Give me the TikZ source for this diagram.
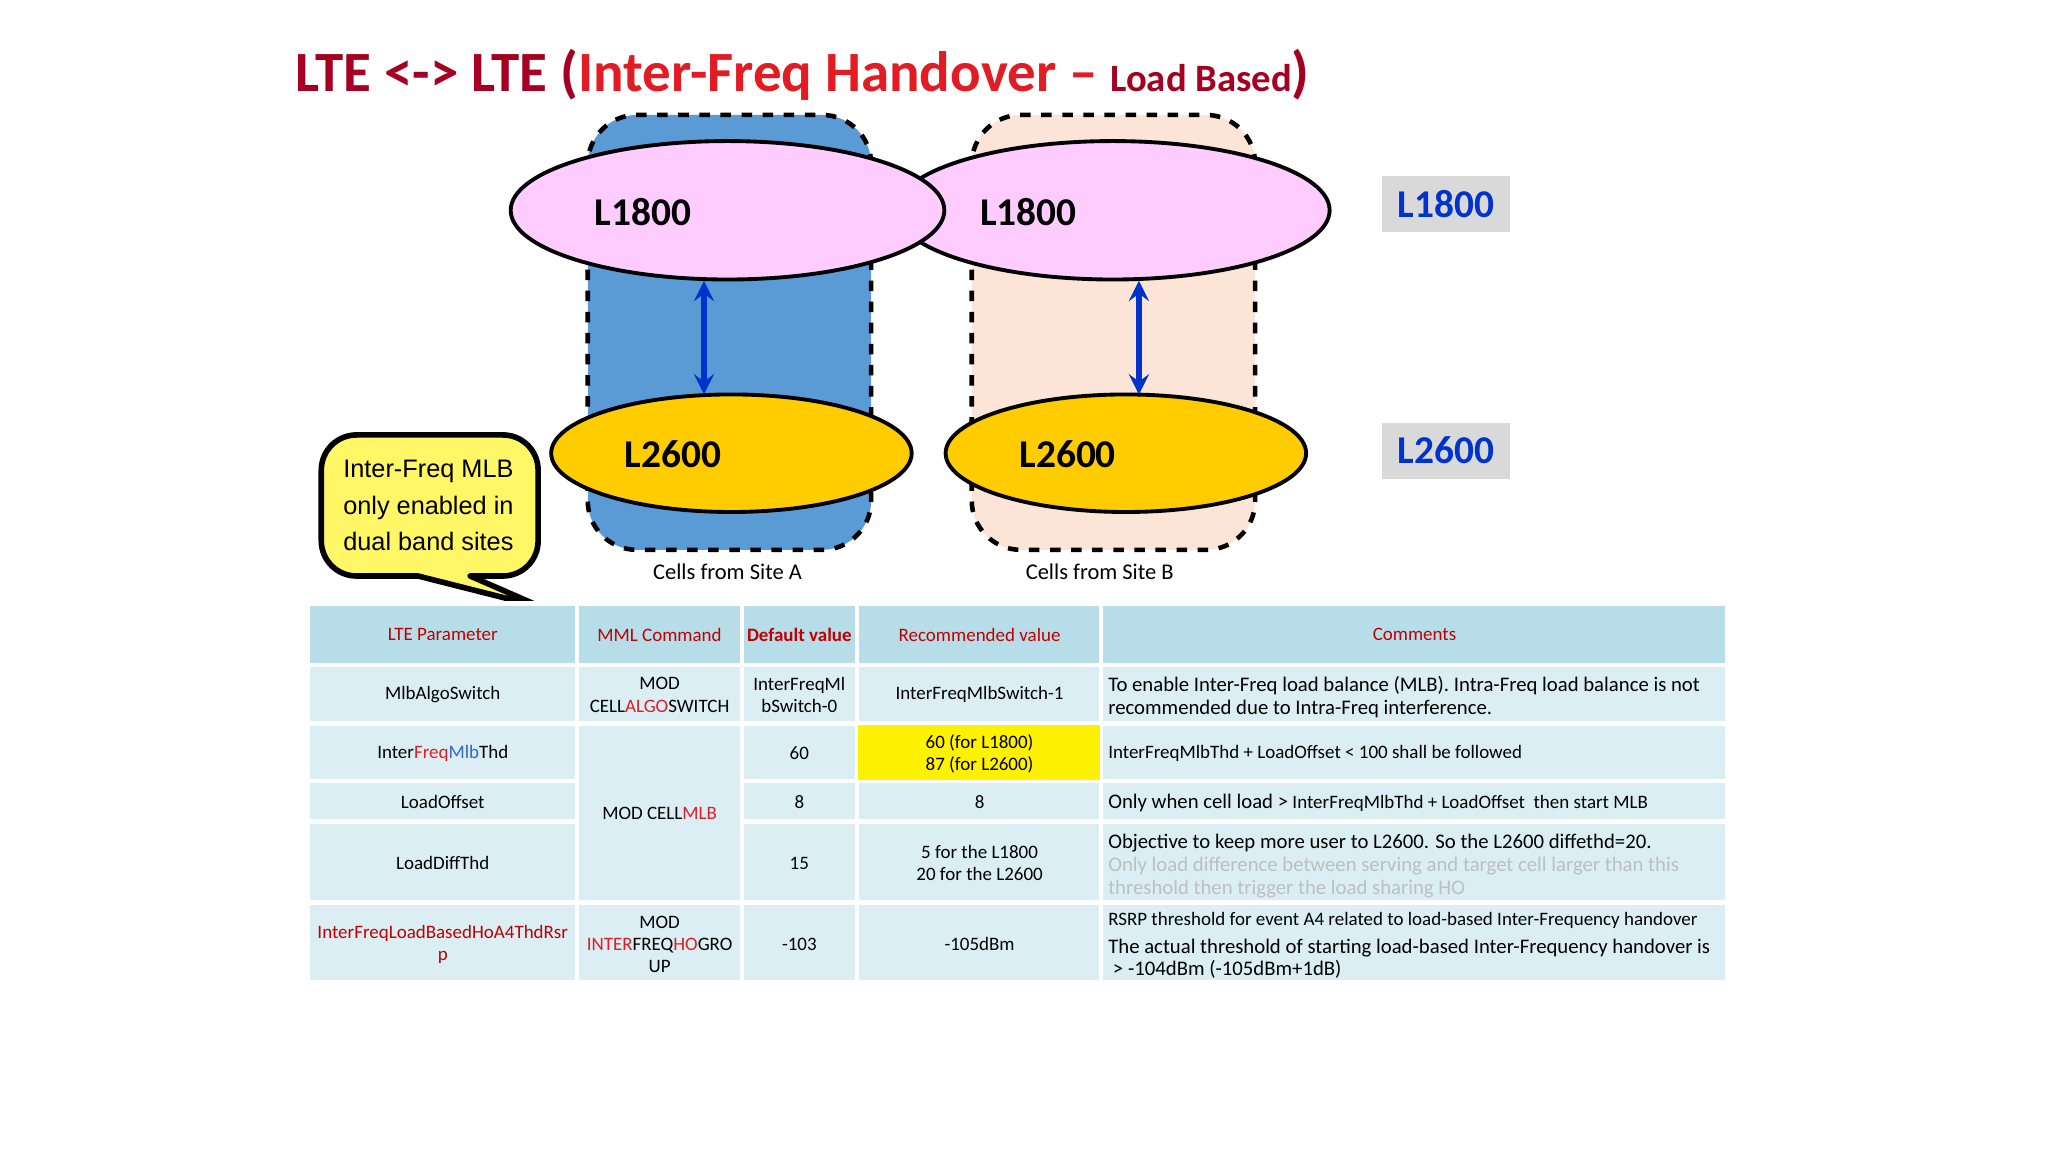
\documentclass[tikz,border=0pt]{standalone}
\usepackage{fontspec}
\setmainfont{Carlito}
\newfontfamily\arialf{Liberation Sans}
\usetikzlibrary{shapes.geometric}
\definecolor{dred}{HTML}{A50021}
\definecolor{tred}{HTML}{E31B23}
\definecolor{siteA}{HTML}{5B9BD5}
\definecolor{siteB}{HTML}{FCE4D6}
\definecolor{pinkc}{HTML}{FFCCFF}
\definecolor{goldc}{HTML}{FFCC00}
\definecolor{lblue}{HTML}{0033CC}
\definecolor{hdr}{HTML}{B7DEE8}
\definecolor{cellc}{HTML}{DAEEF3}
\definecolor{txtr}{HTML}{C00000}
\definecolor{pblue}{HTML}{3366CC}
\definecolor{grayt}{HTML}{BFBFBF}
\tikzset{
 site/.style={draw=black,dashed,line width=1.3pt,rounded corners=14pt},
 ell/.style={ellipse,draw=black,line width=1.1pt,inner sep=0pt},
 elab/.style={font=\fontsize{11.2}{12}\selectfont\bfseries,anchor=west},
 darr/.style={<->,>=stealth,draw=lblue,line width=1.5pt},
 rbox/.style={fill=gray!30,minimum width=98*0.013061cm,minimum height=43*0.013061cm,font=\fontsize{11.2}{12}\selectfont\bfseries,text=lblue},
 hcell/.style={draw=white,line width=1.2pt,fill=hdr},
 bcell/.style={draw=white,line width=1.2pt,fill=cellc},
 ttxt/.style={font=\fontsize{5.4}{6.3}\selectfont,align=center,inner sep=0pt},
 ltxt/.style={font=\fontsize{5.4}{6.3}\selectfont,align=left,anchor=west,inner sep=0pt},
}
\begin{document}
\begin{tikzpicture}[x=0.013061cm,y=-0.013061cm]
\useasboundingbox[fill=white] (0,0) rectangle (1568,882);
% title
\node[anchor=base west,inner sep=0pt,font=\bfseries] (title) at (226,70)
 {\fontsize{16.2}{18}\selectfont\color{dred}LTE <-> LTE (\color{tred}Inter-Freq Handover \textendash\ \color{dred}\fontsize{11}{12}\selectfont Load Based\fontsize{16.2}{18}\selectfont)};
% sites
\draw[site,fill=siteA] (450,88) rectangle (667,421);
\draw[site,fill=siteB] (744,88) rectangle (961,421);
% ellipses
\node[ell,fill=pinkc,minimum width=332*0.013061cm,minimum height=106*0.013061cm] (b18) at (852,161) {};
\node[ell,fill=pinkc,minimum width=332*0.013061cm,minimum height=106*0.013061cm] (a18) at (557,161) {};
\node[ell,fill=goldc,minimum width=276*0.013061cm,minimum height=90*0.013061cm] (a26) at (560,347) {};
\node[ell,fill=goldc,minimum width=276*0.013061cm,minimum height=90*0.013061cm] (b26) at (862,347) {};
\node[elab] (ta18) at (446,162) {L1800};
\node[elab] (tb18) at (741,162) {L1800};
\node[elab] (ta26) at (469,348) {L2600};
\node[elab] (tb26) at (771,348) {L2600};
\coordinate (a1) at (539,215); \coordinate (a2) at (539,302);
\coordinate (b1) at (872,215); \coordinate (b2) at (872,302);
\draw[darr] (a1) -- (a2);
\draw[darr] (b1) -- (b2);
\node[font=\fontsize{6.4}{7}\selectfont] (ca) at (557,438) {Cells from Site A};
\node[font=\fontsize{6.4}{7}\selectfont] (cb) at (842,438) {Cells from Site B};
% right labels
\node[rbox] (r18) at (1107,156) {L1800};
\node[rbox] (r26) at (1107,345) {L2600};
% callout
\draw[line width=1.6pt,fill=yellow!60!white,line join=round,rounded corners=10]
 (320,333) -- (412,333) -- (412,441) [sharp corners] -- (360,441) -- (415,465) -- (320,441) [rounded corners=10] -- (246,441) -- (246,333) -- cycle;
\node[font=\arialf\fontsize{7.2}{10.4}\selectfont,align=center] (co) at (328,387) {Inter-Freq MLB\\only enabled in\\dual band sites};
% table
\foreach \xa/\xb in {236/442,442/568,568/656,656/843,843/1322}{
 \draw[hcell] (\xa,462) rectangle (\xb,509);}
\foreach \ya/\yb in {509/554,554/598,598/629,629/691,691/752}{
 \draw[bcell] (236,\ya) rectangle (442,\yb);
 \draw[bcell] (568,\ya) rectangle (656,\yb);
 \draw[bcell] (656,\ya) rectangle (843,\yb);
 \draw[bcell] (843,\ya) rectangle (1322,\yb);}
\draw[bcell] (442,509) rectangle (568,554);
\draw[bcell] (442,554) rectangle (568,691);
\draw[bcell] (442,691) rectangle (568,752);
\fill[yellow] (657,555) rectangle (842,597);
% header
\node[ttxt,text=txtr] (h1) at (339,486) {LTE Parameter};
\node[ttxt,text=txtr] (h2) at (505,486) {MML Command};
\node[ttxt,text=txtr,font=\fontsize{5.4}{6.3}\selectfont\bfseries] (h3) at (612,486) {Default value};
\node[ttxt,text=txtr] (h4) at (750,486) {Recommended value};
\node[ttxt,text=txtr] (h5) at (1083,486) {Comments};
% row1
\node[ttxt] (p1) at (339,532) {MlbAlgoSwitch};
\node[ttxt] (m1) at (505,532) {MOD\\CELL{\color{tred}ALGO}SWITCH};
\node[ttxt] (d1) at (612,532) {InterFreqMl\\bSwitch-0};
\node[ttxt] (v1) at (750,532) {InterFreqMlbSwitch-1};
\node[ltxt,font=\fontsize{5.9}{6.6}\selectfont] (c1) at (848,534) {To enable Inter-Freq load balance (MLB). Intra-Freq load balance is not\\recommended due to Intra-Freq interference.};
% row2
\node[ttxt] (p2) at (339,577) {Inter{\color{tred}Freq}{\color{pblue}Mlb}Thd};
\node[ttxt] (d2) at (612,577) {60};
\node[ttxt] (v2) at (750,577) {60 (for L1800)\\87 (for L2600)};
\node[ltxt] (c2) at (848,577) {InterFreqMlbThd + LoadOffset < 100 shall be followed};
\node[ttxt] (m2) at (505,623) {MOD CELL{\color{tred}MLB}};
% row3
\node[ttxt] (p3) at (339,614) {LoadOffset};
\node[ttxt] (d3) at (612,614) {8};
\node[ttxt] (v3) at (750,614) {8};
\node[ltxt] (c3) at (848,615) {{\fontsize{5.9}{7}\selectfont Only when cell load >} InterFreqMlbThd + LoadOffset\ \ then start MLB};
% row4
\node[ttxt] (p4) at (339,661) {LoadDiffThd};
\node[ttxt] (d4) at (612,661) {15};
\node[ttxt] (v4) at (750,661) {5 for the L1800\\20 for the L2600};
\node[ltxt,font=\fontsize{5.9}{6.5}\selectfont] (c4) at (848,663) {Objective to keep more user to L2600. So the L2600 diffethd=20.\\{\color{grayt}Only load difference between serving and target cell larger than this}\\{\color{grayt}threshold then trigger the load sharing HO}};
% row5
\node[ttxt,text=txtr] (p5) at (339,723) {InterFreqLoadBasedHoA4ThdRsr\\p};
\node[ttxt] (m5) at (505,723) {MOD\\{\color{tred}INTER}FREQ{\color{tred}HO}GRO\\UP};
\node[ttxt] (d5) at (612,723) {-103};
\node[ttxt] (v5) at (750,723) {-105dBm};
\node[ltxt] (c5a) at (848,705) {RSRP threshold for event A4 related to load-based Inter-Frequency handover};
\node[ltxt,font=\fontsize{5.9}{6.5}\selectfont] (c5b) at (848,734) {The actual threshold of starting load-based Inter-Frequency handover is\\\ > -104dBm (-105dBm+1dB)};
\end{tikzpicture}
\end{document}
